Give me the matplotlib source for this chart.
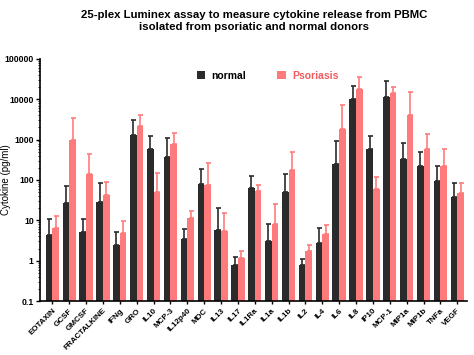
import numpy as np
import matplotlib
matplotlib.use('Agg')
import matplotlib.pyplot as plt
from matplotlib.ticker import LogLocator, NullFormatter

plt.rcParams['font.family'] = ['Liberation Sans', 'DejaVu Sans']

cytokines = ['EOTAXIN', 'GCSF', 'GMCSF', 'FRACTALKINE', 'IFNg', 'GRO', 'IL10', 'MCP-3',
             'IL12p40', 'MDC', 'IL13', 'IL17', 'IL1Ra', 'IL1a', 'IL1b', 'IL2', 'IL4',
             'IL6', 'IL8', 'IP10', 'MCP-1', 'MIP1a', 'MIP1b', 'TNFa', 'VEGF']

# mean and upper error bar end
normal = [4.3, 27, 5.0, 28, 2.5, 1330, 580, 380, 3.4, 81, 5.6, 0.78, 62, 3.1, 50, 0.77, 2.7,
          247, 10400, 580, 11700, 340, 225, 93, 37]
normal_top = [11, 70, 10.8, 83, 5.0, 3000, 1240, 1080, 6.1, 190, 20.5, 1.25, 123, 8.0, 140, 1.1, 6.3,
              910, 21700, 1250, 28000, 810, 500, 225, 86]
psoriasis = [6.5, 1000, 140, 43, 4.8, 2200, 49, 800, 11.4, 75, 5.4, 1.14, 52, 8.1, 176, 1.7, 4.5,
             1860, 17700, 59, 14000, 4100, 600, 217, 48]
psoriasis_top = [12.5, 3500, 440, 91, 9.4, 4100, 145, 1450, 17, 257, 14.8, 1.76, 77, 26, 500, 2.5, 7.5,
                 7300, 35500, 116, 19800, 15000, 1360, 580, 86]

c_norm = '#2b2b2b'
c_pso = '#ff7b7b'

fig = plt.figure(figsize=(4.74, 3.55), dpi=100)
ax = fig.add_axes([0.0844, 0.152, 0.9006, 0.682])

x = np.arange(len(cytokines))
w = 0.395
n = np.array(normal)
p = np.array(psoriasis)
n_err = np.array(normal_top) - n
p_err = np.array(psoriasis_top) - p

ax.bar(x - w / 2, n, w, color=c_norm, label='normal')
ax.bar(x + w / 2, p, w, color=c_pso, label='Psoriasis')
ax.errorbar(x - w / 2, n, yerr=[np.zeros_like(n), n_err], fmt='none', ecolor=c_norm,
            elinewidth=1.2, capsize=1.8, capthick=1.2)
ax.errorbar(x + w / 2, p, yerr=[np.zeros_like(p), p_err], fmt='none', ecolor=c_pso,
            elinewidth=1.2, capsize=1.8, capthick=1.2)

ax.set_yscale('log')
ax.set_ylim(0.1, 100000)
ax.set_xlim(-0.73, 24.57)
ax.yaxis.set_minor_locator(LogLocator(base=10, subs=np.arange(2, 10), numticks=20))
ax.yaxis.set_minor_formatter(NullFormatter())
ax.set_yticks([0.1, 1, 10, 100, 1000, 10000, 100000])
ax.set_yticklabels(['0.1', '1', '10', '100', '1000', '10000', '100000'], fontsize=6.2, fontweight='bold')
ax.tick_params(axis='y', which='major', length=3, width=1, pad=1.5)
ax.tick_params(axis='y', which='minor', length=1.5, width=0.6)

ax.set_xticks(x)
ax.set_xticklabels(cytokines, rotation=45, ha='right', rotation_mode='anchor',
                   fontsize=5.8, fontweight='bold')
ax.tick_params(axis='x', length=2.5, width=1, pad=2)

for s in ['top', 'right']:
    ax.spines[s].set_visible(False)
for s in ['left', 'bottom']:
    ax.spines[s].set_linewidth(1.2)

ax.set_ylabel('Cytokine (pg/ml)', fontsize=7)
ax.yaxis.set_label_coords(-0.068, 0.5)

fig.suptitle('25-plex Luminex assay to measure cytokine release from PBMC\n'
             'isolated from psoriatic and normal donors',
             x=0.536, y=0.972, fontsize=8.2, fontweight='bold', linespacing=1.25)

leg = ax.legend(loc='upper left', bbox_to_anchor=(0.345, 0.99), ncol=2, frameon=False,
                handlelength=0.8, handleheight=0.8, columnspacing=3.0,
                handletextpad=0.6, prop={'weight': 'bold', 'size': 7.5})
leg.get_texts()[1].set_color('#f05a5e')

fig.savefig('out.png', dpi=100)
